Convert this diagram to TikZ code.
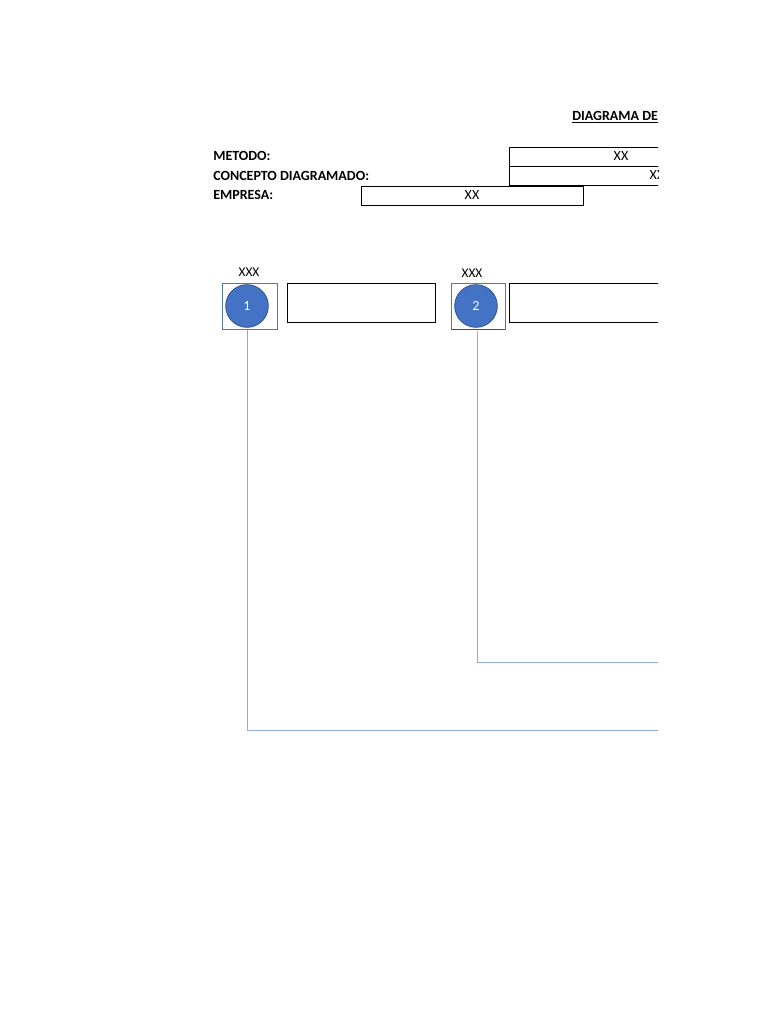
\documentclass[tikz,border=0pt]{standalone}
\usepackage{fontspec}
\setmainfont{Carlito}
\usepackage{tikz}
\definecolor{stepblue}{HTML}{4472C4}
\definecolor{stepedge}{HTML}{2F528F}
\definecolor{linkblue}{HTML}{8EA9DB}
\tikzstyle{label}=[font=\fontsize{10.5pt}{12pt}\selectfont\bfseries,anchor=west,inner sep=0pt]
\tikzstyle{field}=[draw=black,line width=0.7pt,font=\fontsize{10.5pt}{12pt}\selectfont,inner sep=0pt]
\tikzstyle{stepframe}=[draw=stepedge!80,line width=0.6pt,inner sep=0pt]
\tikzstyle{stepdot}=[circle,fill=stepblue,draw=stepedge,line width=0.6pt,minimum size=32pt,inner sep=0pt,text=white,font=\fontsize{10.5pt}{12pt}\selectfont]
\tikzstyle{desc}=[draw=black,line width=0.7pt]
\tikzstyle{link}=[draw=linkblue,line width=0.6pt]

\begin{document}
\begin{tikzpicture}[x=0.75pt,y=-0.75pt]
      \useasboundingbox (0,0) rectangle (768,1024);
      \clip (0,0) rectangle (658,1024);

      % header
      \node[label] (title) at (572,117) {\underline{DIAGRAMA DE CURSO}};
      \node[label] (metodo) at (213,156) {METODO:};
      \node[label] (concepto) at (213,176) {CONCEPTO DIAGRAMADO:};
      \node[label] (empresa) at (213,195) {EMPRESA:};
      \draw[field] (509,147) rectangle (733,166);
      \node[font=\fontsize{10.5pt}{12pt}\selectfont] (metodoxx) at (621,156.5) {XX};
      \draw[field] (509,166) rectangle (805,185);
      \node[font=\fontsize{10.5pt}{12pt}\selectfont] (conceptoxx) at (657,175.5) {XX};
      \draw[field] (361,186) rectangle (583,205);
      \node[font=\fontsize{10.5pt}{12pt}\selectfont] (empresaxx) at (472,195.5) {XX};

      % step 1
      \begin{scope}
        \node[font=\fontsize{10pt}{12pt}\selectfont] (t1) at (249,272) {XXX};
        \draw[stepframe] (222,283) rectangle (277,329);
        \node[stepdot] (s1) at (247,306) {1};
        \draw[desc] (287,283) rectangle (435,322);
        \coordinate (a1) at (247,330);
        \coordinate (b1) at (247,730);
        \coordinate (c1) at (670,730);
        \draw[link] (a1) -- (b1) -- (c1);
      \end{scope}

      % step 2
      \begin{scope}
        \node[font=\fontsize{10pt}{12pt}\selectfont] (t2) at (472,273) {XXX};
        \draw[stepframe] (451,283) rectangle (505,329);
        \draw[stepedge,line width=1pt] (451,329.5) -- (505,329.5);
        \node[stepdot] (s2) at (476,306) {2};
        \draw[desc] (509,283) rectangle (700,322);
        \coordinate (a2) at (477,331);
        \coordinate (b2) at (477,662);
        \coordinate (c2) at (670,662);
        \draw[link] (a2) -- (b2) -- (c2);
      \end{scope}
    \end{tikzpicture}
\end{document}
